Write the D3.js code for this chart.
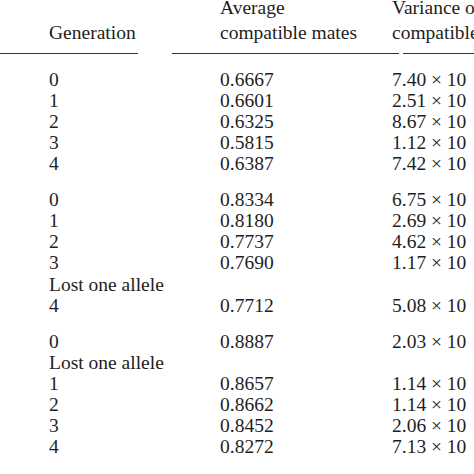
<!DOCTYPE html>
<html>
<head>
<meta charset="utf-8">
<script src="https://cdn.jsdelivr.net/npm/d3@7"></script>
<style>
  body { margin: 0; background: #fff; }
  svg text { font-family: "Liberation Serif", "DejaVu Serif", serif; font-size: 19.5px; fill: #1e1e1e; }
</style>
</head>
<body>
<svg id="chart" width="474" height="474"></svg>
<script>
// table contents, one entry per printed row; null = blank gap between groups
var generations = ["0", "1", "2", "3", "4", null,
                   "0", "1", "2", "3", "Lost one allele", "4", null,
                   "0", "Lost one allele", "1", "2", "3", "4"];
var averages = ["0.6667", "0.6601", "0.6325", "0.5815", "0.6387", null,
                "0.8334", "0.8180", "0.7737", "0.7690", "", "0.7712", null,
                "0.8887", "", "0.8657", "0.8662", "0.8452", "0.8272"];
var variances = ["7.40", "2.51", "8.67", "1.12", "7.42", null,
                 "6.75", "2.69", "4.62", "1.17", "", "5.08", null,
                 "2.03", "", "1.14", "1.14", "2.06", "7.13"];
var headers = [["Generation"], ["Average", "compatible mates"], ["Variance of", "compatible mates"]];

var svg = d3.select("#chart");
var colX = d3.scaleOrdinal().domain([0, 1, 2]).range([49, 220, 392]);

// header
headers.forEach(function (lines, c) {
    lines.forEach(function (t, i) {
        svg.append("text")
          .attr("x", colX(c))
          .attr("y", 39 - (lines.length - 1 - i) * 25)
          .text(t);
    });
});

// rules under the header
var rules = [[0, 138], [172, 399], [403, 474]];
svg.selectAll("line.rule").data(rules).enter().append("line")
  .attr("x1", function (d) { return d[0]; })
  .attr("x2", function (d) { return d[1]; })
  .attr("y1", 53.5).attr("y2", 53.5)
  .attr("stroke", "#333").attr("stroke-width", 1.2);

// row positions: regular step, blank entries add a smaller gap
var slots = [];
var s = 0;
generations.forEach(function (g) {
    if (g === null) { s += 0.72; slots.push(null); }
    else { slots.push(s); s += 1; }
});
var y = d3.scaleLinear().domain([0, 1]).range([85.5, 106.6]);

var rows = generations.map(function (g, i) {
    return { g: g, a: averages[i], v: variances[i], slot: slots[i] };
}).filter(function (d) { return d.g !== null; });

var row = svg.selectAll("g.row").data(rows).enter().append("g")
  .attr("transform", function (d) { return "translate(0," + y(d.slot) + ")"; });

row.append("text").attr("x", colX(0)).text(function (d) { return d.g; });
row.append("text").attr("x", colX(1)).text(function (d) { return d.a; });
row.append("text").attr("x", colX(2))
  .text(function (d) { return d.v ? d.v + " \u00d7 10" : ""; });
</script>
</body>
</html>
